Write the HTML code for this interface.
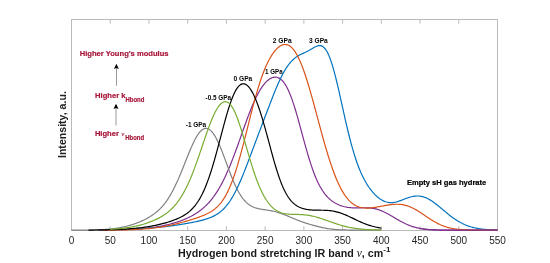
<!DOCTYPE html>
<html><head><meta charset="utf-8"><style>
html,body{margin:0;padding:0;background:#fff;}
svg{display:block;}
text{font-family:"Liberation Sans",Arial,sans-serif;}
.nu{font-family:"Liberation Serif",serif;font-style:italic;font-weight:normal;}
</style></head><body>
<svg width="550" height="263" viewBox="0 0 550 263">
<rect width="550" height="263" fill="#fff"/>
<g stroke="#bababa" stroke-width="1" fill="none">
<rect x="71.5" y="19.5" width="426.00" height="211.00"/>
<path d="M110.23,230.5V226.3M110.23,19.5V23.7"/><path d="M148.95,230.5V226.3M148.95,19.5V23.7"/><path d="M187.68,230.5V226.3M187.68,19.5V23.7"/><path d="M226.41,230.5V226.3M226.41,19.5V23.7"/><path d="M265.14,230.5V226.3M265.14,19.5V23.7"/><path d="M303.86,230.5V226.3M303.86,19.5V23.7"/><path d="M342.59,230.5V226.3M342.59,19.5V23.7"/><path d="M381.32,230.5V226.3M381.32,19.5V23.7"/><path d="M420.05,230.5V226.3M420.05,19.5V23.7"/><path d="M458.77,230.5V226.3M458.77,19.5V23.7"/>
</g>
<g font-weight="bold" fill="#000" font-size="6.9" lengthAdjust="spacingAndGlyphs">
<text x="185.8" y="127.0" textLength="20.4" lengthAdjust="spacingAndGlyphs">-1 GPa</text>
<text x="205.6" y="99.9" textLength="25.4" lengthAdjust="spacingAndGlyphs">-0.5 GPa</text>
<text x="233.5" y="80.8" textLength="18.8" lengthAdjust="spacingAndGlyphs">0 GPa</text>
<text x="265.0" y="74.4" textLength="17.6" lengthAdjust="spacingAndGlyphs">1 GPa</text>
<text x="272.8" y="42.9" textLength="18.8" lengthAdjust="spacingAndGlyphs">2 GPa</text>
<text x="309.0" y="42.9" textLength="18.8" lengthAdjust="spacingAndGlyphs">3 GPa</text>
</g>
<g fill="none" stroke-width="1.2" stroke-linejoin="round">
<path d="M98.6,230.10 99.6,230.09 100.6,230.08 101.6,230.08 102.6,230.07 103.6,230.06 104.6,230.05 105.6,230.03 106.6,230.02 107.6,230.01 108.6,230.00 109.6,229.98 110.6,229.97 111.6,229.95 112.6,229.93 113.6,229.91 114.6,229.89 115.6,229.87 116.6,229.85 117.6,229.83 118.6,229.80 119.6,229.78 120.6,229.75 121.6,229.72 122.6,229.69 123.6,229.65 124.6,229.62 125.6,229.58 126.6,229.54 127.6,229.50 128.6,229.46 129.6,229.41 130.6,229.36 131.6,229.31 132.6,229.26 133.6,229.20 134.6,229.15 135.6,229.08 136.6,229.02 137.6,228.95 138.6,228.88 139.6,228.80 140.6,228.73 141.6,228.64 142.6,228.56 143.6,228.47 144.6,228.37 145.6,228.27 146.6,228.17 147.6,228.06 148.6,227.95 149.6,227.83 150.6,227.71 151.6,227.58 152.6,227.45 153.6,227.31 154.6,227.17 155.6,227.02 156.6,226.86 157.6,226.70 158.6,226.53 159.6,226.36 160.6,226.18 161.6,225.99 162.6,225.80 163.6,225.59 164.6,225.39 165.6,225.17 166.6,224.94 167.6,224.71 168.6,224.47 169.6,224.22 170.6,223.97 171.6,223.70 172.6,223.42 173.6,223.14 174.6,222.85 175.6,222.54 176.6,222.23 177.6,221.90 178.6,221.57 179.6,221.22 180.6,220.86 181.6,220.49 182.6,220.11 183.6,219.72 184.6,219.31 185.6,218.88 186.6,218.44 187.6,217.99 188.6,217.52 189.6,217.03 190.6,216.52 191.6,216.00 192.6,215.45 193.6,214.89 194.6,214.30 195.6,213.68 196.6,213.05 197.6,212.38 198.6,211.69 199.6,210.97 200.6,210.22 201.6,209.43 202.6,208.61 203.6,207.76 204.6,206.86 205.6,205.93 206.6,204.95 207.6,203.93 208.6,202.86 209.6,201.75 210.6,200.58 211.6,199.36 212.6,198.09 213.6,196.76 214.6,195.37 215.6,193.92 216.6,192.41 217.6,190.83 218.6,189.19 219.6,187.48 220.6,185.70 221.6,183.86 222.6,181.95 223.6,179.96 224.6,177.91 225.6,175.79 226.6,173.61 227.6,171.35 228.6,169.03 229.6,166.65 230.6,164.20 231.6,161.70 232.6,159.14 233.6,156.53 234.6,153.88 235.6,151.18 236.6,148.45 237.6,145.68 238.6,142.89 239.6,140.08 240.6,137.26 241.6,134.43 242.6,131.61 243.6,128.79 244.6,125.99 245.6,123.22 246.6,120.47 247.6,117.77 248.6,115.11 249.6,112.51 250.6,109.97 251.6,107.49 252.6,105.09 253.6,102.77 254.6,100.54 255.6,98.39 256.6,96.34 257.6,94.38 258.6,92.52 259.6,90.77 260.6,89.12 261.6,87.57 262.6,86.13 263.6,84.79 264.6,83.56 265.6,82.44 266.6,81.42 267.6,80.50 268.6,79.70 269.6,79.00 270.6,78.40 271.6,77.92 272.6,77.54 273.6,77.29 274.6,77.15 275.6,77.13 276.6,77.24 277.6,77.49 278.6,77.87 279.6,78.40 280.6,79.09 281.6,79.94 282.6,80.96 283.6,82.15 284.6,83.52 285.6,85.07 286.6,86.81 287.6,88.74 288.6,90.86 289.6,93.16 290.6,95.65 291.6,98.31 292.6,101.14 293.6,104.13 294.6,107.27 295.6,110.54 296.6,113.93 297.6,117.42 298.6,120.98 299.6,124.62 300.6,128.29 301.6,132.00 302.6,135.70 303.6,139.39 304.6,143.05 305.6,146.66 306.6,150.20 307.6,153.65 308.6,157.02 309.6,160.27 310.6,163.41 311.6,166.43 312.6,169.32 313.6,172.07 314.6,174.68 315.6,177.15 316.6,179.49 317.6,181.69 318.6,183.75 319.6,185.68 320.6,187.49 321.6,189.18 322.6,190.75 323.6,192.21 324.6,193.57 325.6,194.83 326.6,195.99 327.6,197.08 328.6,198.08 329.6,199.01 330.6,199.87 331.6,200.67 332.6,201.41 333.6,202.09 334.6,202.72 335.6,203.30 336.6,203.83 337.6,204.33 338.6,204.78 339.6,205.19 340.6,205.57 341.6,205.92 342.6,206.23 343.6,206.50 344.6,206.75 345.6,206.97 346.6,207.16 347.6,207.33 348.6,207.47 349.6,207.59 350.6,207.68 351.6,207.76 352.6,207.81 353.6,207.85 354.6,207.88 355.6,207.89 356.6,207.89 357.6,207.88 358.6,207.86 359.6,207.84 360.6,207.82 361.6,207.79 362.6,207.77 363.6,207.76 364.6,207.75 365.6,207.76 366.6,207.78 367.6,207.81 368.6,207.86 369.6,207.94 370.6,208.03 371.6,208.15 372.6,208.29 373.6,208.46 374.6,208.65 375.6,208.88 376.6,209.13 377.6,209.42 378.6,209.73 379.6,210.07 380.6,210.44 381.6,210.84 382.6,211.26 383.6,211.71 384.6,212.19 385.6,212.68 386.6,213.20 387.6,213.73 388.6,214.28 389.6,214.85 390.6,215.42 391.6,216.01 392.6,216.60 393.6,217.19 394.6,217.78 395.6,218.38 396.6,218.97 397.6,219.55 398.6,220.13 399.6,220.70 400.6,221.25 401.6,221.79 402.6,222.32 403.6,222.83 404.6,223.32 405.6,223.80 406.6,224.25 407.6,224.69 408.6,225.11 409.6,225.50 410.6,225.88 411.6,226.23 412.6,226.56 413.6,226.87 414.6,227.17 415.6,227.44 416.6,227.69 417.6,227.93 418.6,228.15 419.6,228.35 420.6,228.53 421.6,228.70 422.6,228.86 423.6,229.00 424.6,229.13 425.6,229.25 426.6,229.35 427.6,229.45 428.6,229.53 429.6,229.61 430.6,229.68 431.6,229.74 432.6,229.80 433.6,229.85 434.6,229.89 435.6,229.93 436.6,229.96 437.6,229.99 438.6,230.02 439.6,230.04 440.6,230.06 441.6,230.08 442.6,230.10 443.6,230.11 444.6,230.12 445.6,230.13 446.6,230.14 447.6,230.15 448.6,230.16 449.6,230.16 450.6,230.17 451.6,230.17 452.6,230.17 453.6,230.18 454.6,230.18 455.6,230.18 456.6,230.19 457.6,230.19 458.6,230.19 459.6,230.19 460.6,230.19 461.6,230.19 462.6,230.19 463.6,230.19 464.6,230.19 465.6,230.20 466.6,230.20 467.6,230.20 468.6,230.20 469.6,230.20 470.6,230.20 471.6,230.20 472.6,230.20 473.6,230.20 474.6,230.20 475.6,230.20 476.6,230.20 477.6,230.20 478.6,230.20 479.6,230.20 480.6,230.20 481.6,230.20 482.6,230.20 483.6,230.20 484.6,230.20 485.6,230.20 486.6,230.20 487.6,230.20 488.6,230.20 489.6,230.20 490.6,230.20 491.6,230.20 492.6,230.20 493.6,230.20 494.6,230.20 495.6,230.20 496.6,230.20 497.5,230.20" stroke="#7E2F8E"/>
<path d="M71.5,230.19 72.5,230.18 73.5,230.18 74.5,230.18 75.5,230.18 76.5,230.17 77.5,230.17 78.5,230.17 79.5,230.16 80.5,230.15 81.5,230.15 82.5,230.14 83.5,230.13 84.5,230.12 85.5,230.12 86.5,230.10 87.5,230.09 88.5,230.08 89.5,230.06 90.5,230.05 91.5,230.03 92.5,230.01 93.5,229.98 94.5,229.96 95.5,229.93 96.5,229.90 97.5,229.87 98.5,229.83 99.5,229.79 100.5,229.74 101.5,229.70 102.5,229.64 103.5,229.59 104.5,229.52 105.5,229.46 106.5,229.38 107.5,229.30 108.5,229.22 109.5,229.13 110.5,229.03 111.5,228.93 112.5,228.81 113.5,228.69 114.5,228.56 115.5,228.43 116.5,228.28 117.5,228.13 118.5,227.96 119.5,227.79 120.5,227.61 121.5,227.41 122.5,227.21 123.5,226.99 124.5,226.77 125.5,226.53 126.5,226.28 127.5,226.02 128.5,225.75 129.5,225.47 130.5,225.18 131.5,224.87 132.5,224.55 133.5,224.22 134.5,223.88 135.5,223.52 136.5,223.15 137.5,222.77 138.5,222.38 139.5,221.97 140.5,221.54 141.5,221.11 142.5,220.65 143.5,220.18 144.5,219.70 145.5,219.19 146.5,218.67 147.5,218.13 148.5,217.56 149.5,216.97 150.5,216.36 151.5,215.72 152.5,215.05 153.5,214.35 154.5,213.61 155.5,212.84 156.5,212.03 157.5,211.18 158.5,210.28 159.5,209.33 160.5,208.34 161.5,207.28 162.5,206.17 163.5,205.00 164.5,203.76 165.5,202.45 166.5,201.08 167.5,199.63 168.5,198.10 169.5,196.50 170.5,194.82 171.5,193.06 172.5,191.23 173.5,189.31 174.5,187.32 175.5,185.25 176.5,183.11 177.5,180.90 178.5,178.63 179.5,176.30 180.5,173.91 181.5,171.48 182.5,169.02 183.5,166.52 184.5,164.01 185.5,161.48 186.5,158.97 187.5,156.47 188.5,153.99 189.5,151.56 190.5,149.18 191.5,146.87 192.5,144.65 193.5,142.51 194.5,140.49 195.5,138.59 196.5,136.82 197.5,135.19 198.5,133.72 199.5,132.41 200.5,131.27 201.5,130.32 202.5,129.55 203.5,128.97 204.5,128.58 205.5,128.39 206.5,128.39 207.5,128.60 208.5,129.00 209.5,129.59 210.5,130.38 211.5,131.35 212.5,132.51 213.5,133.85 214.5,135.37 215.5,137.05 216.5,138.88 217.5,140.87 218.5,142.99 219.5,145.25 220.5,147.61 221.5,150.08 222.5,152.63 223.5,155.24 224.5,157.91 225.5,160.62 226.5,163.33 227.5,166.05 228.5,168.75 229.5,171.41 230.5,174.03 231.5,176.58 232.5,179.05 233.5,181.44 234.5,183.73 235.5,185.91 236.5,187.99 237.5,189.96 238.5,191.81 239.5,193.55 240.5,195.17 241.5,196.67 242.5,198.07 243.5,199.35 244.5,200.53 245.5,201.60 246.5,202.58 247.5,203.46 248.5,204.26 249.5,204.97 250.5,205.61 251.5,206.18 252.5,206.69 253.5,207.13 254.5,207.53 255.5,207.87 256.5,208.18 257.5,208.44 258.5,208.68 259.5,208.89 260.5,209.08 261.5,209.25 262.5,209.41 263.5,209.57 264.5,209.71 265.5,209.86 266.5,210.01 267.5,210.16 268.5,210.32 269.5,210.49 270.5,210.67 271.5,210.86 272.5,211.06 273.5,211.28 274.5,211.52 275.5,211.77 276.5,212.04 277.5,212.32 278.5,212.62 279.5,212.93 280.5,213.26 281.5,213.61 282.5,213.97 283.5,214.34 284.5,214.72 285.5,215.11 286.5,215.52 287.5,215.93 288.5,216.35 289.5,216.77 290.5,217.19 291.5,217.62 292.5,218.05 293.5,218.48 294.5,218.90 295.5,219.32 296.5,219.73 297.5,220.13 298.5,220.53 299.5,220.92 300.5,221.29 301.5,221.66 302.5,222.01 303.5,222.36 304.5,222.69 305.5,223.01 306.5,223.32 307.5,223.62 308.5,223.92 309.5,224.21 310.5,224.49 311.5,224.77 312.5,225.05 313.5,225.32 314.5,225.59 315.5,225.86 316.5,226.12 317.5,226.38 318.5,226.64 319.5,226.89 320.5,227.13 321.5,227.37 322.5,227.60 323.5,227.81 324.5,228.02 325.5,228.21 326.5,228.39 327.5,228.56 328.5,228.72 329.5,228.86 330.5,228.99 331.5,229.11 332.5,229.22 333.5,229.32 334.5,229.41 335.5,229.49 336.5,229.56 337.5,229.63 338.5,229.69 339.5,229.74 340.5,229.79 341.5,229.83 342.5,229.87 343.5,229.91 344.5,229.94 345.5,229.97 346.5,229.99 347.5,230.02 348.5,230.04 349.5,230.05 350.5,230.07 351.5,230.09 352.5,230.10 353.5,230.11 354.5,230.12 355.5,230.13 356.5,230.14 357.5,230.15 358.5,230.15 359.5,230.16 360.5,230.16 361.5,230.17 362.5,230.17 363.5,230.18 364.5,230.18 365.5,230.18 366.5,230.18 367.5,230.19 368.5,230.19 369.5,230.19 370.5,230.19 371.5,230.19 372.5,230.19 373.5,230.19 374.5,230.20 375.5,230.20 376.5,230.20 377.5,230.20 378.5,230.20 379.5,230.20 380.5,230.20 381.3,230.20" stroke="#808080"/>
<path d="M102.5,229.93 103.5,229.92 104.5,229.90 105.5,229.89 106.5,229.87 107.5,229.85 108.5,229.84 109.5,229.82 110.5,229.80 111.5,229.78 112.5,229.76 113.5,229.74 114.5,229.71 115.5,229.69 116.5,229.67 117.5,229.64 118.5,229.61 119.5,229.59 120.5,229.56 121.5,229.53 122.5,229.50 123.5,229.47 124.5,229.43 125.5,229.40 126.5,229.36 127.5,229.33 128.5,229.29 129.5,229.25 130.5,229.21 131.5,229.16 132.5,229.12 133.5,229.07 134.5,229.03 135.5,228.98 136.5,228.93 137.5,228.87 138.5,228.82 139.5,228.76 140.5,228.71 141.5,228.65 142.5,228.59 143.5,228.52 144.5,228.46 145.5,228.39 146.5,228.32 147.5,228.25 148.5,228.17 149.5,228.10 150.5,228.02 151.5,227.94 152.5,227.86 153.5,227.77 154.5,227.68 155.5,227.59 156.5,227.50 157.5,227.41 158.5,227.31 159.5,227.21 160.5,227.11 161.5,227.00 162.5,226.90 163.5,226.79 164.5,226.67 165.5,226.56 166.5,226.44 167.5,226.32 168.5,226.20 169.5,226.07 170.5,225.94 171.5,225.81 172.5,225.68 173.5,225.54 174.5,225.40 175.5,225.26 176.5,225.11 177.5,224.97 178.5,224.81 179.5,224.66 180.5,224.50 181.5,224.35 182.5,224.18 183.5,224.02 184.5,223.85 185.5,223.68 186.5,223.50 187.5,223.33 188.5,223.15 189.5,222.96 190.5,222.77 191.5,222.58 192.5,222.39 193.5,222.18 194.5,221.98 195.5,221.77 196.5,221.55 197.5,221.33 198.5,221.10 199.5,220.87 200.5,220.63 201.5,220.37 202.5,220.11 203.5,219.84 204.5,219.55 205.5,219.25 206.5,218.94 207.5,218.61 208.5,218.26 209.5,217.89 210.5,217.50 211.5,217.08 212.5,216.63 213.5,216.15 214.5,215.64 215.5,215.10 216.5,214.51 217.5,213.88 218.5,213.20 219.5,212.48 220.5,211.70 221.5,210.86 222.5,209.97 223.5,209.01 224.5,207.98 225.5,206.88 226.5,205.71 227.5,204.46 228.5,203.14 229.5,201.73 230.5,200.24 231.5,198.67 232.5,197.01 233.5,195.27 234.5,193.44 235.5,191.54 236.5,189.55 237.5,187.48 238.5,185.34 239.5,183.12 240.5,180.84 241.5,178.49 242.5,176.08 243.5,173.62 244.5,171.11 245.5,168.57 246.5,165.98 247.5,163.37 248.5,160.73 249.5,158.07 250.5,155.40 251.5,152.73 252.5,150.04 253.5,147.36 254.5,144.68 255.5,142.01 256.5,139.34 257.5,136.67 258.5,134.02 259.5,131.37 260.5,128.72 261.5,126.09 262.5,123.45 263.5,120.82 264.5,118.19 265.5,115.56 266.5,112.94 267.5,110.32 268.5,107.70 269.5,105.10 270.5,102.50 271.5,99.92 272.5,97.36 273.5,94.83 274.5,92.34 275.5,89.89 276.5,87.48 277.5,85.14 278.5,82.86 279.5,80.65 280.5,78.52 281.5,76.48 282.5,74.52 283.5,72.66 284.5,70.89 285.5,69.22 286.5,67.64 287.5,66.17 288.5,64.79 289.5,63.50 290.5,62.31 291.5,61.20 292.5,60.19 293.5,59.25 294.5,58.40 295.5,57.61 296.5,56.90 297.5,56.24 298.5,55.64 299.5,55.08 300.5,54.57 301.5,54.08 302.5,53.61 303.5,53.15 304.5,52.69 305.5,52.22 306.5,51.74 307.5,51.24 308.5,50.71 309.5,50.17 310.5,49.60 311.5,49.01 312.5,48.42 313.5,47.84 314.5,47.28 315.5,46.76 316.5,46.31 317.5,45.95 318.5,45.70 319.5,45.59 320.5,45.65 321.5,45.90 322.5,46.37 323.5,47.07 324.5,48.02 325.5,49.25 326.5,50.75 327.5,52.54 328.5,54.63 329.5,57.00 330.5,59.65 331.5,62.58 332.5,65.77 333.5,69.20 334.5,72.86 335.5,76.71 336.5,80.74 337.5,84.92 338.5,89.23 339.5,93.62 340.5,98.09 341.5,102.60 342.5,107.12 343.5,111.63 344.5,116.10 345.5,120.52 346.5,124.86 347.5,129.11 348.5,133.24 349.5,137.25 350.5,141.13 351.5,144.87 352.5,148.45 353.5,151.88 354.5,155.16 355.5,158.28 356.5,161.25 357.5,164.06 358.5,166.73 359.5,169.25 360.5,171.64 361.5,173.90 362.5,176.03 363.5,178.04 364.5,179.95 365.5,181.75 366.5,183.45 367.5,185.06 368.5,186.58 369.5,188.02 370.5,189.38 371.5,190.67 372.5,191.88 373.5,193.03 374.5,194.11 375.5,195.12 376.5,196.07 377.5,196.96 378.5,197.78 379.5,198.53 380.5,199.23 381.5,199.85 382.5,200.41 383.5,200.91 384.5,201.34 385.5,201.71 386.5,202.01 387.5,202.25 388.5,202.42 389.5,202.54 390.5,202.59 391.5,202.59 392.5,202.54 393.5,202.43 394.5,202.28 395.5,202.08 396.5,201.84 397.5,201.57 398.5,201.26 399.5,200.93 400.5,200.58 401.5,200.21 402.5,199.83 403.5,199.45 404.5,199.06 405.5,198.68 406.5,198.31 407.5,197.95 408.5,197.61 409.5,197.29 410.5,197.00 411.5,196.74 412.5,196.51 413.5,196.32 414.5,196.17 415.5,196.06 416.5,196.00 417.5,195.99 418.5,196.02 419.5,196.10 420.5,196.23 421.5,196.42 422.5,196.65 423.5,196.93 424.5,197.26 425.5,197.64 426.5,198.07 427.5,198.54 428.5,199.06 429.5,199.61 430.5,200.21 431.5,200.84 432.5,201.51 433.5,202.21 434.5,202.93 435.5,203.68 436.5,204.46 437.5,205.25 438.5,206.06 439.5,206.88 440.5,207.71 441.5,208.55 442.5,209.39 443.5,210.23 444.5,211.07 445.5,211.91 446.5,212.74 447.5,213.56 448.5,214.36 449.5,215.16 450.5,215.94 451.5,216.70 452.5,217.44 453.5,218.16 454.5,218.86 455.5,219.54 456.5,220.19 457.5,220.82 458.5,221.42 459.5,222.00 460.5,222.56 461.5,223.08 462.5,223.59 463.5,224.06 464.5,224.52 465.5,224.94 466.5,225.35 467.5,225.73 468.5,226.09 469.5,226.42 470.5,226.74 471.5,227.03 472.5,227.30 473.5,227.55 474.5,227.79 475.5,228.01 476.5,228.21 477.5,228.40 478.5,228.57 479.5,228.72 480.5,228.87 481.5,229.00 482.5,229.12 483.5,229.23 484.5,229.33 485.5,229.42 486.5,229.51 487.5,229.58 488.5,229.65 489.5,229.71 490.5,229.76 491.5,229.81 492.5,229.86 493.5,229.90 494.5,229.93 495.5,229.96 496.5,229.99 497.5,230.02 497.5,230.02" stroke="#0072BD"/>
<path d="M102.5,230.15 103.5,230.15 104.5,230.14 105.5,230.14 106.5,230.13 107.5,230.12 108.5,230.12 109.5,230.11 110.5,230.10 111.5,230.09 112.5,230.08 113.5,230.07 114.5,230.06 115.5,230.04 116.5,230.03 117.5,230.02 118.5,230.00 119.5,229.98 120.5,229.97 121.5,229.95 122.5,229.93 123.5,229.90 124.5,229.88 125.5,229.85 126.5,229.83 127.5,229.80 128.5,229.77 129.5,229.73 130.5,229.70 131.5,229.66 132.5,229.62 133.5,229.58 134.5,229.53 135.5,229.48 136.5,229.43 137.5,229.38 138.5,229.32 139.5,229.26 140.5,229.20 141.5,229.13 142.5,229.06 143.5,228.99 144.5,228.91 145.5,228.83 146.5,228.74 147.5,228.65 148.5,228.56 149.5,228.46 150.5,228.35 151.5,228.25 152.5,228.13 153.5,228.01 154.5,227.89 155.5,227.76 156.5,227.63 157.5,227.49 158.5,227.35 159.5,227.20 160.5,227.04 161.5,226.88 162.5,226.71 163.5,226.54 164.5,226.37 165.5,226.18 166.5,225.99 167.5,225.80 168.5,225.60 169.5,225.39 170.5,225.18 171.5,224.97 172.5,224.75 173.5,224.52 174.5,224.29 175.5,224.05 176.5,223.80 177.5,223.56 178.5,223.30 179.5,223.05 180.5,222.78 181.5,222.52 182.5,222.25 183.5,221.97 184.5,221.69 185.5,221.41 186.5,221.12 187.5,220.83 188.5,220.53 189.5,220.23 190.5,219.92 191.5,219.61 192.5,219.30 193.5,218.98 194.5,218.66 195.5,218.32 196.5,217.99 197.5,217.64 198.5,217.29 199.5,216.93 200.5,216.56 201.5,216.18 202.5,215.79 203.5,215.38 204.5,214.95 205.5,214.51 206.5,214.05 207.5,213.56 208.5,213.04 209.5,212.50 210.5,211.92 211.5,211.31 212.5,210.65 213.5,209.95 214.5,209.19 215.5,208.38 216.5,207.51 217.5,206.56 218.5,205.55 219.5,204.46 220.5,203.28 221.5,202.01 222.5,200.64 223.5,199.16 224.5,197.58 225.5,195.88 226.5,194.06 227.5,192.12 228.5,190.05 229.5,187.84 230.5,185.50 231.5,183.03 232.5,180.41 233.5,177.66 234.5,174.78 235.5,171.76 236.5,168.61 237.5,165.34 238.5,161.95 239.5,158.45 240.5,154.85 241.5,151.17 242.5,147.40 243.5,143.56 244.5,139.66 245.5,135.73 246.5,131.76 247.5,127.78 248.5,123.81 249.5,119.84 250.5,115.90 251.5,112.01 252.5,108.16 253.5,104.39 254.5,100.69 255.5,97.08 256.5,93.57 257.5,90.16 258.5,86.87 259.5,83.70 260.5,80.65 261.5,77.73 262.5,74.94 263.5,72.27 264.5,69.74 265.5,67.34 266.5,65.07 267.5,62.93 268.5,60.91 269.5,59.02 270.5,57.25 271.5,55.60 272.5,54.06 273.5,52.64 274.5,51.33 275.5,50.13 276.5,49.05 277.5,48.07 278.5,47.21 279.5,46.46 280.5,45.83 281.5,45.31 282.5,44.92 283.5,44.64 284.5,44.50 285.5,44.48 286.5,44.61 287.5,44.87 288.5,45.27 289.5,45.82 290.5,46.52 291.5,47.38 292.5,48.39 293.5,49.55 294.5,50.88 295.5,52.37 296.5,54.02 297.5,55.83 298.5,57.80 299.5,59.92 300.5,62.20 301.5,64.62 302.5,67.19 303.5,69.89 304.5,72.73 305.5,75.69 306.5,78.77 307.5,81.96 308.5,85.24 309.5,88.62 310.5,92.08 311.5,95.61 312.5,99.20 313.5,102.84 314.5,106.52 315.5,110.23 316.5,113.96 317.5,117.70 318.5,121.43 319.5,125.16 320.5,128.87 321.5,132.54 322.5,136.18 323.5,139.77 324.5,143.31 325.5,146.78 326.5,150.18 327.5,153.50 328.5,156.75 329.5,159.90 330.5,162.96 331.5,165.93 332.5,168.79 333.5,171.55 334.5,174.20 335.5,176.75 336.5,179.18 337.5,181.50 338.5,183.71 339.5,185.81 340.5,187.80 341.5,189.67 342.5,191.43 343.5,193.09 344.5,194.64 345.5,196.08 346.5,197.43 347.5,198.67 348.5,199.82 349.5,200.87 350.5,201.84 351.5,202.72 352.5,203.51 353.5,204.23 354.5,204.87 355.5,205.45 356.5,205.95 357.5,206.39 358.5,206.77 359.5,207.10 360.5,207.37 361.5,207.59 362.5,207.77 363.5,207.91 364.5,208.01 365.5,208.07 366.5,208.09 367.5,208.09 368.5,208.06 369.5,208.01 370.5,207.93 371.5,207.84 372.5,207.73 373.5,207.60 374.5,207.45 375.5,207.30 376.5,207.13 377.5,206.96 378.5,206.78 379.5,206.59 380.5,206.40 381.5,206.21 382.5,206.02 383.5,205.83 384.5,205.65 385.5,205.46 386.5,205.29 387.5,205.12 388.5,204.96 389.5,204.81 390.5,204.68 391.5,204.56 392.5,204.45 393.5,204.37 394.5,204.30 395.5,204.25 396.5,204.23 397.5,204.24 398.5,204.26 399.5,204.32 400.5,204.41 401.5,204.52 402.5,204.67 403.5,204.85 404.5,205.06 405.5,205.31 406.5,205.59 407.5,205.90 408.5,206.25 409.5,206.62 410.5,207.03 411.5,207.48 412.5,207.95 413.5,208.45 414.5,208.98 415.5,209.53 416.5,210.11 417.5,210.71 418.5,211.33 419.5,211.96 420.5,212.61 421.5,213.27 422.5,213.94 423.5,214.61 424.5,215.29 425.5,215.97 426.5,216.65 427.5,217.32 428.5,217.98 429.5,218.64 430.5,219.29 431.5,219.92 432.5,220.54 433.5,221.14 434.5,221.72 435.5,222.28 436.5,222.83 437.5,223.35 438.5,223.85 439.5,224.32 440.5,224.78 441.5,225.21 442.5,225.61 443.5,226.00 444.5,226.36 445.5,226.69 446.5,227.01 447.5,227.30 448.5,227.57 449.5,227.83 450.5,228.06 451.5,228.27 452.5,228.47 453.5,228.65 454.5,228.82 455.5,228.97 456.5,229.10 457.5,229.23 458.5,229.34 459.5,229.44 460.5,229.53 461.5,229.61 462.5,229.68 463.5,229.75 464.5,229.80 465.5,229.86 466.5,229.90 467.5,229.94 468.5,229.97 469.5,230.01 470.5,230.03 471.5,230.06 472.5,230.08 473.5,230.09 474.5,230.11 475.5,230.12 476.5,230.13 477.5,230.14 478.5,230.15 479.5,230.16 480.5,230.17 481.5,230.17 482.5,230.18 483.5,230.18 484.5,230.18 485.5,230.19 486.5,230.19 487.5,230.19 488.5,230.19 489.5,230.19 490.5,230.19 491.5,230.20 492.5,230.20 493.5,230.20 494.5,230.20 495.5,230.20 496.5,230.20 497.5,230.20 497.5,230.20" stroke="#D95319"/>
<path d="M88.5,230.08 89.5,230.07 90.5,230.07 91.5,230.06 92.5,230.05 93.5,230.04 94.5,230.02 95.5,230.01 96.5,230.00 97.5,229.99 98.5,229.97 99.5,229.96 100.5,229.94 101.5,229.92 102.5,229.91 103.5,229.89 104.5,229.87 105.5,229.85 106.5,229.82 107.5,229.80 108.5,229.77 109.5,229.75 110.5,229.72 111.5,229.69 112.5,229.66 113.5,229.62 114.5,229.59 115.5,229.55 116.5,229.51 117.5,229.47 118.5,229.43 119.5,229.38 120.5,229.34 121.5,229.29 122.5,229.23 123.5,229.18 124.5,229.12 125.5,229.06 126.5,229.00 127.5,228.93 128.5,228.86 129.5,228.79 130.5,228.71 131.5,228.63 132.5,228.55 133.5,228.46 134.5,228.37 135.5,228.27 136.5,228.17 137.5,228.07 138.5,227.96 139.5,227.84 140.5,227.73 141.5,227.60 142.5,227.48 143.5,227.34 144.5,227.21 145.5,227.06 146.5,226.91 147.5,226.76 148.5,226.60 149.5,226.43 150.5,226.26 151.5,226.08 152.5,225.90 153.5,225.71 154.5,225.51 155.5,225.31 156.5,225.10 157.5,224.88 158.5,224.66 159.5,224.42 160.5,224.19 161.5,223.94 162.5,223.68 163.5,223.42 164.5,223.15 165.5,222.87 166.5,222.58 167.5,222.28 168.5,221.97 169.5,221.66 170.5,221.33 171.5,220.99 172.5,220.64 173.5,220.27 174.5,219.89 175.5,219.50 176.5,219.09 177.5,218.66 178.5,218.21 179.5,217.74 180.5,217.25 181.5,216.74 182.5,216.19 183.5,215.62 184.5,215.01 185.5,214.37 186.5,213.68 187.5,212.95 188.5,212.18 189.5,211.35 190.5,210.47 191.5,209.52 192.5,208.51 193.5,207.42 194.5,206.26 195.5,205.01 196.5,203.67 197.5,202.24 198.5,200.71 199.5,199.08 200.5,197.33 201.5,195.47 202.5,193.49 203.5,191.38 204.5,189.15 205.5,186.78 206.5,184.29 207.5,181.66 208.5,178.91 209.5,176.02 210.5,173.01 211.5,169.88 212.5,166.63 213.5,163.27 214.5,159.81 215.5,156.26 216.5,152.63 217.5,148.94 218.5,145.19 219.5,141.41 220.5,137.61 221.5,133.81 222.5,130.03 223.5,126.29 224.5,122.60 225.5,118.98 226.5,115.46 227.5,112.06 228.5,108.78 229.5,105.66 230.5,102.70 231.5,99.92 232.5,97.33 233.5,94.95 234.5,92.78 235.5,90.84 236.5,89.13 237.5,87.65 238.5,86.41 239.5,85.40 240.5,84.64 241.5,84.11 242.5,83.81 243.5,83.74 244.5,83.90 245.5,84.27 246.5,84.86 247.5,85.66 248.5,86.66 249.5,87.86 250.5,89.25 251.5,90.83 252.5,92.59 253.5,94.52 254.5,96.64 255.5,98.92 256.5,101.37 257.5,103.98 258.5,106.74 259.5,109.65 260.5,112.70 261.5,115.87 262.5,119.17 263.5,122.57 264.5,126.07 265.5,129.65 266.5,133.29 267.5,136.98 268.5,140.70 269.5,144.43 270.5,148.15 271.5,151.84 272.5,155.48 273.5,159.06 274.5,162.56 275.5,165.97 276.5,169.26 277.5,172.43 278.5,175.47 279.5,178.36 280.5,181.10 281.5,183.69 282.5,186.12 283.5,188.40 284.5,190.52 285.5,192.48 286.5,194.29 287.5,195.96 288.5,197.49 289.5,198.88 290.5,200.15 291.5,201.30 292.5,202.35 293.5,203.29 294.5,204.13 295.5,204.90 296.5,205.58 297.5,206.19 298.5,206.73 299.5,207.22 300.5,207.65 301.5,208.03 302.5,208.37 303.5,208.67 304.5,208.93 305.5,209.15 306.5,209.35 307.5,209.52 308.5,209.66 309.5,209.78 310.5,209.88 311.5,209.97 312.5,210.03 313.5,210.08 314.5,210.12 315.5,210.15 316.5,210.18 317.5,210.19 318.5,210.20 319.5,210.21 320.5,210.22 321.5,210.23 322.5,210.24 323.5,210.26 324.5,210.29 325.5,210.33 326.5,210.38 327.5,210.44 328.5,210.51 329.5,210.61 330.5,210.72 331.5,210.85 332.5,211.00 333.5,211.17 334.5,211.37 335.5,211.58 336.5,211.82 337.5,212.08 338.5,212.36 339.5,212.67 340.5,212.99 341.5,213.34 342.5,213.70 343.5,214.09 344.5,214.49 345.5,214.91 346.5,215.34 347.5,215.79 348.5,216.24 349.5,216.71 350.5,217.18 351.5,217.66 352.5,218.14 353.5,218.63 354.5,219.11 355.5,219.59 356.5,220.07 357.5,220.55 358.5,221.01 359.5,221.47 360.5,221.92 361.5,222.36 362.5,222.79 363.5,223.20 364.5,223.60 365.5,223.99 366.5,224.36 367.5,224.72 368.5,225.06 369.5,225.38 370.5,225.69 371.5,225.99 372.5,226.27 373.5,226.53 374.5,226.78 375.5,227.01 376.5,227.23 377.5,227.44 378.5,227.63 379.5,227.81 380.5,227.98 381.3,228.10" stroke="#000000"/>
<path d="M110.2,229.35 111.2,229.29 112.2,229.22 113.2,229.15 114.2,229.08 115.2,229.00 116.2,228.92 117.2,228.84 118.2,228.75 119.2,228.65 120.2,228.55 121.2,228.44 122.2,228.33 123.2,228.21 124.2,228.09 125.2,227.96 126.2,227.82 127.2,227.67 128.2,227.52 129.2,227.37 130.2,227.20 131.2,227.03 132.2,226.85 133.2,226.66 134.2,226.46 135.2,226.25 136.2,226.04 137.2,225.81 138.2,225.58 139.2,225.34 140.2,225.08 141.2,224.82 142.2,224.54 143.2,224.26 144.2,223.96 145.2,223.66 146.2,223.34 147.2,223.01 148.2,222.66 149.2,222.30 150.2,221.93 151.2,221.55 152.2,221.15 153.2,220.73 154.2,220.30 155.2,219.85 156.2,219.38 157.2,218.89 158.2,218.39 159.2,217.86 160.2,217.31 161.2,216.73 162.2,216.13 163.2,215.50 164.2,214.85 165.2,214.16 166.2,213.43 167.2,212.68 168.2,211.88 169.2,211.04 170.2,210.16 171.2,209.24 172.2,208.26 173.2,207.24 174.2,206.16 175.2,205.02 176.2,203.82 177.2,202.55 178.2,201.22 179.2,199.82 180.2,198.34 181.2,196.79 182.2,195.16 183.2,193.45 184.2,191.66 185.2,189.79 186.2,187.83 187.2,185.78 188.2,183.64 189.2,181.42 190.2,179.12 191.2,176.73 192.2,174.26 193.2,171.72 194.2,169.10 195.2,166.41 196.2,163.66 197.2,160.85 198.2,158.00 199.2,155.10 200.2,152.17 201.2,149.21 202.2,146.25 203.2,143.28 204.2,140.32 205.2,137.39 206.2,134.49 207.2,131.64 208.2,128.85 209.2,126.14 210.2,123.51 211.2,120.97 212.2,118.55 213.2,116.26 214.2,114.09 215.2,112.07 216.2,110.21 217.2,108.50 218.2,106.97 219.2,105.62 220.2,104.46 221.2,103.49 222.2,102.72 223.2,102.15 224.2,101.80 225.2,101.67 226.2,101.75 227.2,102.06 228.2,102.60 229.2,103.37 230.2,104.38 231.2,105.61 232.2,107.08 233.2,108.78 234.2,110.70 235.2,112.84 236.2,115.19 237.2,117.73 238.2,120.45 239.2,123.34 240.2,126.37 241.2,129.53 242.2,132.80 243.2,136.15 244.2,139.56 245.2,143.01 246.2,146.48 247.2,149.95 248.2,153.40 249.2,156.81 250.2,160.16 251.2,163.44 252.2,166.65 253.2,169.76 254.2,172.77 255.2,175.67 256.2,178.46 257.2,181.13 258.2,183.69 259.2,186.12 260.2,188.43 261.2,190.61 262.2,192.68 263.2,194.63 264.2,196.46 265.2,198.17 266.2,199.77 267.2,201.26 268.2,202.65 269.2,203.93 270.2,205.11 271.2,206.19 272.2,207.19 273.2,208.09 274.2,208.92 275.2,209.66 276.2,210.33 277.2,210.92 278.2,211.46 279.2,211.93 280.2,212.34 281.2,212.70 282.2,213.01 283.2,213.28 284.2,213.50 285.2,213.69 286.2,213.85 287.2,213.98 288.2,214.08 289.2,214.16 290.2,214.23 291.2,214.28 292.2,214.31 293.2,214.34 294.2,214.37 295.2,214.39 296.2,214.41 297.2,214.43 298.2,214.46 299.2,214.49 300.2,214.53 301.2,214.58 302.2,214.64 303.2,214.71 304.2,214.80 305.2,214.90 306.2,215.01 307.2,215.14 308.2,215.29 309.2,215.45 310.2,215.63 311.2,215.83 312.2,216.04 313.2,216.26 314.2,216.50 315.2,216.76 316.2,217.03 317.2,217.31 318.2,217.60 319.2,217.91 320.2,218.23 321.2,218.55 322.2,218.88 323.2,219.22 324.2,219.57 325.2,219.92 326.2,220.27 327.2,220.63 328.2,220.98 329.2,221.34 330.2,221.70 331.2,222.05 332.2,222.40 333.2,222.75 334.2,223.09 335.2,223.43 336.2,223.76 337.2,224.08 338.2,224.40 339.2,224.71 340.2,225.01 341.2,225.30 342.2,225.58 343.2,225.85 344.2,226.11 345.2,226.36 346.2,226.60 347.2,226.83 348.2,227.06 349.2,227.27 350.2,227.47 351.2,227.66 352.2,227.84 353.2,228.01 354.2,228.17 355.2,228.32 356.2,228.47 357.2,228.60 358.2,228.73 359.2,228.84 360.2,228.96 361.2,229.06 362.2,229.16 363.2,229.24 364.2,229.33 365.2,229.40 366.2,229.48 367.2,229.54 368.2,229.60 369.2,229.66 370.2,229.71 371.2,229.76 372.2,229.80 373.2,229.84 374.2,229.88 375.2,229.91 376.2,229.94 377.2,229.97 378.2,229.99 379.2,230.01 380.2,230.03 381.2,230.05 381.3,230.05" stroke="#77AC30"/>
<path d="M420.0,228.42 421.0,228.60 422.0,228.76 423.0,228.91 424.0,229.05 425.0,229.18 426.0,229.29 427.0,229.39 428.0,229.48 429.0,229.56 430.0,229.64 431.0,229.70 432.0,229.76 433.0,229.82 434.0,229.86 435.0,229.91 436.0,229.94 437.0,229.97 438.0,230.00 439.0,230.03 440.0,230.05 441.0,230.07 442.0,230.09 443.0,230.10 444.0,230.11 445.0,230.13 446.0,230.14 447.0,230.14 448.0,230.15 449.0,230.16 450.0,230.16 451.0,230.17 452.0,230.17 453.0,230.18 454.0,230.18 455.0,230.18 456.0,230.18 457.0,230.19 458.0,230.19 459.0,230.19 460.0,230.19 461.0,230.19 462.0,230.19 463.0,230.19 464.0,230.19 465.0,230.19 466.0,230.20 467.0,230.20 468.0,230.20 469.0,230.20 470.0,230.20 471.0,230.20 472.0,230.20 473.0,230.20 474.0,230.20 475.0,230.20 476.0,230.20 477.0,230.20 478.0,230.20 479.0,230.20 480.0,230.20 481.0,230.20 482.0,230.20 483.0,230.20 484.0,230.20 485.0,230.20 486.0,230.20 487.0,230.20 488.0,230.20 489.0,230.20 490.0,230.20 491.0,230.20 492.0,230.20 493.0,230.20 494.0,230.20 495.0,230.20 496.0,230.20 497.0,230.20 497.5,230.20" stroke="#7E2F8E"/>
</g>
<g font-size="10" fill="#262626"><text x="71.50" y="243.6" text-anchor="middle">0</text><text x="110.23" y="243.6" text-anchor="middle">50</text><text x="148.95" y="243.6" text-anchor="middle">100</text><text x="187.68" y="243.6" text-anchor="middle">150</text><text x="226.41" y="243.6" text-anchor="middle">200</text><text x="265.14" y="243.6" text-anchor="middle">250</text><text x="303.86" y="243.6" text-anchor="middle">300</text><text x="342.59" y="243.6" text-anchor="middle">350</text><text x="381.32" y="243.6" text-anchor="middle">400</text><text x="420.05" y="243.6" text-anchor="middle">450</text><text x="458.77" y="243.6" text-anchor="middle">500</text><text x="497.50" y="243.6" text-anchor="middle">550</text></g>
<text x="178.0" y="256.8" font-size="10.7" font-weight="bold" fill="#1a1a1a">Hydrogen bond stretching IR band <tspan class="nu" font-size="11.5">ν</tspan>, cm<tspan dy="-4.6" font-size="8">-1</tspan></text>
<text transform="translate(65.6,124.6) rotate(-90)" text-anchor="middle" font-size="10.6" font-weight="bold" fill="#222">Intensity, a.u.</text>
<g font-weight="bold" fill="#A8173A" stroke="#A8173A" stroke-width="0.2" font-size="7.6">
<text x="79.7" y="55.6">Higher Young's modulus</text>
<text x="95.1" y="97.6">Higher k<tspan dy="4.0" font-size="6.7" textLength="18.9" lengthAdjust="spacingAndGlyphs">Hbond</tspan></text>
<text x="94.9" y="136.4">Higher<tspan class="nu" dx="2.2" stroke-width="0.1" font-size="7">ν</tspan><tspan dx="0.9" dy="3.9" font-size="6.7" textLength="18.9" lengthAdjust="spacingAndGlyphs">Hbond</tspan></text>
</g>
<g stroke="#9a9a9a" stroke-width="1" fill="none">
<path d="M116.5,67V85.8M116.0,107V125.5"/>
</g>
<g fill="#000">
<path d="M116.4,63.7 L118.9,69.0 L116.4,68.0 L113.9,69.0 Z"/>
<path d="M116.0,103.7 L118.5,109.0 L116.0,108.0 L113.5,109.0 Z"/>
</g>

<text x="406.9" y="185.0" font-weight="bold" fill="#000" stroke="#000" stroke-width="0.2" font-size="7.7" textLength="79.4" lengthAdjust="spacingAndGlyphs">Empty sH gas hydrate</text>
</svg>
</body></html>
